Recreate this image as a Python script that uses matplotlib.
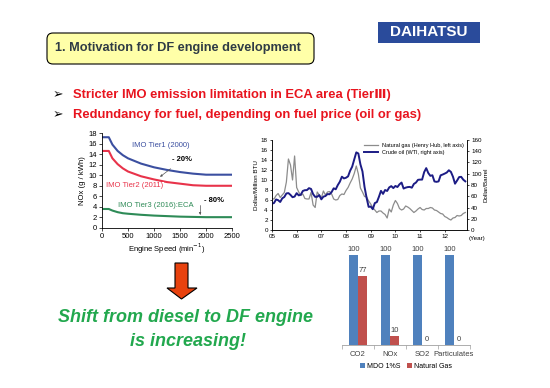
import matplotlib
matplotlib.use('Agg')
import matplotlib.pyplot as plt
import numpy as np
from matplotlib.patches import FancyBboxPatch, Polygon, Rectangle

plt.rcParams['font.family'] = ['Liberation Sans', 'DejaVu Sans']

# NOx limits (IMO Tier curves)
speed = [0, 130, 200, 300, 400, 500, 750, 1000, 1250, 1500, 1750, 2000, 2500]
tier1 = [17.2, 17.2, 15.8, 14.6, 13.8, 13.2, 12.2, 11.5, 11.0, 10.6, 10.3, 10.1, 10.1]
tier2 = [14.6, 14.6, 13.2, 12.1, 11.3, 10.7, 9.8, 9.2, 8.7, 8.4, 8.1, 8.0, 8.0]
tier3 = [3.6, 3.6, 3.3, 3.0, 2.8, 2.7, 2.5, 2.35, 2.25, 2.15, 2.1, 2.05, 2.05]

# monthly prices Jan 2005 - Nov 2012
gas = [6.3, 6.2, 6.9, 7.3, 6.5, 7.0, 7.5, 9.6, 14.2, 13.0, 10.0, 14.8,
       8.5, 7.6, 6.9, 7.2, 6.3, 6.2, 6.2, 7.5, 5.0, 4.5, 7.6, 7.0,
       6.4, 7.8, 7.0, 7.6, 7.7, 7.2, 6.2, 6.0, 6.1, 6.9, 7.2, 7.1,
       7.9, 8.5, 9.4, 10.2, 11.3, 12.8, 11.2, 8.4, 7.6, 6.7, 6.6, 5.8,
       5.2, 4.5, 4.0, 3.5, 3.8, 3.8, 3.4, 3.1, 2.4, 4.2, 3.6, 5.0,
       5.9, 5.3, 4.3, 4.0, 4.2, 4.8, 4.6, 4.3, 3.9, 3.5, 3.8, 4.2,
       4.5, 4.1, 4.0, 4.3, 4.3, 4.5, 4.4, 4.0, 3.9, 3.6, 3.3, 3.2,
       2.7, 2.5, 2.2, 2.0, 2.4, 2.5, 2.9, 2.8, 2.9, 3.3, 3.5]
wti = [46.8, 48.0, 54.3, 53.0, 49.8, 56.3, 58.7, 65.0, 65.6, 62.4, 58.3, 59.4,
       65.5, 61.6, 62.7, 69.4, 70.8, 70.9, 74.4, 73.0, 63.8, 58.9, 59.1, 62.0,
       54.5, 59.3, 60.4, 63.9, 63.5, 67.5, 74.1, 72.4, 79.9, 85.8, 94.8, 91.7,
       92.9, 95.4, 105.4, 112.6, 125.4, 138.0, 136.0, 116.7, 104.1, 76.6, 57.3, 41.1,
       41.7, 37.0, 47.9, 49.6, 59.0, 69.6, 64.2, 71.1, 69.4, 75.7, 78.0, 74.5,
       78.3, 76.4, 81.2, 84.3, 73.7, 75.3, 76.3, 76.6, 75.2, 81.9, 84.3, 89.2,
       89.6, 89.6, 102.9, 110.0, 101.3, 96.3, 97.3, 86.3, 85.6, 86.4, 97.2, 98.6,
       100.3, 102.2, 106.2, 103.3, 94.7, 82.3, 87.9, 94.1, 94.5, 89.5, 86.5]
year_ticks = [2005, 2006, 2007, 2008, 2009, 2010, 2011, 2012]
year_labels = ['05', '06', '07', '08', '09', '10', '11', '12']

# emissions relative to MDO
categories = ['CO2', 'NOx', 'SO2', 'Particulates']
mdo = [100, 100, 100, 100]
natgas = [77, 10, 0, 0]

fig = plt.figure(figsize=(5.5, 3.88), dpi=100)
fig.patch.set_facecolor('white')
T = fig.dpi_scale_trans

# header
fig.patches.append(FancyBboxPatch((0.47, 3.24), 2.67, 0.31, boxstyle='round,pad=0,rounding_size=0.06',
                                  fc='#FFFFA8', ec='black', lw=0.8, transform=T))
fig.text(0.55, 3.395, '1. Motivation for DF engine development', transform=T, ha='left', va='center',
         fontsize=9.2, fontweight='bold', color='#2F3B45')
fig.patches.append(Rectangle((3.78, 3.45), 1.02, 0.21, fc='#2A4B9B', ec='none', transform=T))
fig.text(4.29, 3.555, 'DAIHATSU', transform=T, ha='center', va='center', fontsize=11,
         fontweight='bold', color='white')

bullets = ['Stricter IMO emission limitation in ECA area (Tier\u2162)',
           'Redundancy for fuel, depending on fuel price (oil or gas)']
for i, b in enumerate(bullets):
    y = 2.93 - 0.2 * i
    fig.text(0.53, y, '\u27a2', transform=T, ha='left', va='center', fontsize=9, color='black',
             family=['DejaVu Sans'])
    fig.text(0.73, y, b, transform=T, ha='left', va='center', fontsize=9.4, fontweight='bold',
             color='#E8141E')

# NOx chart
ax1 = fig.add_axes([0.1855, 0.4124, 0.2364, 0.2448])
ax1.plot(speed, tier1, color='#3B4FA0', lw=1.5)
ax1.plot(speed, tier2, color='#E8334A', lw=1.5)
ax1.plot(speed, tier3, color='#2E8B57', lw=1.5)
ax1.set_xlim(0, 2500)
ax1.set_ylim(0, 18)
ax1.set_xticks([0, 500, 1000, 1500, 2000, 2500])
ax1.set_yticks(range(0, 19, 2))
ax1.tick_params(labelsize=5.5, length=2, width=0.5, pad=1.5)
for s in ['top', 'right']:
    ax1.spines[s].set_visible(False)
for s in ['left', 'bottom']:
    ax1.spines[s].set_linewidth(0.6)
ax1.set_ylabel('NOx (g / kWh)', fontsize=5.5, labelpad=2)
ax1.set_xlabel('Engine Speed (min$^{-1}$)', fontsize=5.5, labelpad=1)
bb = dict(fc='white', ec='none', pad=0.5)
ax1.text(1125, 15.7, 'IMO Tier1 (2000)', color='#3B4FA0', fontsize=5.5, ha='center', va='center', bbox=bb)
ax1.text(620, 8.0, 'IMO Tier2 (2011)', color='#E8334A', fontsize=5.5, ha='center', va='center', bbox=bb)
ax1.text(1030, 4.2, 'IMO Tier3 (2016):ECA', color='#2E8B57', fontsize=5.5, ha='center', va='center', bbox=bb)
ax1.annotate('- 20%', xy=(1115, 9.7), xytext=(1540, 12.9), fontsize=5.5, fontweight='bold', ha='center',
             va='center', arrowprops=dict(arrowstyle='-|>', lw=0.5, color='#555555', mutation_scale=3,
                                          shrinkA=3, shrinkB=0))
ax1.annotate('- 80%', xy=(1885, 2.5), xytext=(2150, 5.3), fontsize=5.5, fontweight='bold', ha='center',
             va='center', arrowprops=dict(arrowstyle='-|>', lw=0.5, color='#555555', mutation_scale=3,
                                          shrinkA=4, shrinkB=0, connectionstyle='angle,angleA=180,angleB=90'))

# fuel price chart
months = 2005 + np.arange(len(gas)) / 12.0
ax2 = fig.add_axes([0.4945, 0.4072, 0.3545, 0.232])
l1, = ax2.plot(months, gas, color='#8C8C8C', lw=0.9, label='Natural gas (Henry Hub, left axis)')
ax2.set_xlim(2005, 2012.9)
ax2.set_ylim(0, 18)
ax2.set_yticks(range(0, 19, 2))
ax2.set_xticks(year_ticks)
ax2.set_xticklabels(year_labels)
ax2.tick_params(labelsize=4.5, length=1.5, width=0.5, pad=1.5)
ax2.set_ylabel('Dollar/Million BTU', fontsize=4.5, labelpad=1)
ax3 = ax2.twinx()
l2, = ax3.plot(months, wti, color='#1C1C85', lw=1.4, label='Crude oil (WTI, right axis)')
ax3.set_ylim(0, 160)
ax3.set_yticks(range(0, 161, 20))
ax3.tick_params(labelsize=4.5, length=1.5, width=0.5, pad=1.5)
ax3.set_ylabel('Dollar/Barrel', fontsize=4.5, labelpad=1)
for a in (ax2, ax3):
    a.spines['top'].set_visible(False)
    for s in ['left', 'right', 'bottom']:
        a.spines[s].set_linewidth(0.5)
ax2.text(2012.95, -1.6, '(Year)', fontsize=4.5, ha='left', va='center')
ax2.legend(handles=[l1, l2], loc='upper right', fontsize=4, frameon=False, handlelength=2.5,
           borderaxespad=0.1, labelspacing=0.4)

# emissions bar chart
ax4 = fig.add_axes([0.6218, 0.1108, 0.2327, 0.255])
x = np.arange(len(categories))
w = 0.28
b1 = ax4.bar(x - w / 2, mdo, w, color='#4F81BD', label='MDO 1%S')
b2 = ax4.bar(x + w / 2, natgas, w, color='#C0504D', label='Natural Gas')
for bars in (b1, b2):
    for r in bars:
        ax4.text(r.get_x() + r.get_width() / 2, r.get_height() + 2, '%d' % r.get_height(),
                 ha='center', va='bottom', fontsize=5.5, color='#404040')
ax4.set_xlim(-0.5, 3.5)
ax4.set_ylim(0, 110)
ax4.set_yticks([])
ax4.set_xticks(x)
ax4.set_xticklabels(categories)
ax4.set_xticks(np.arange(-0.5, 4, 1), minor=True)
ax4.tick_params(axis='x', which='major', length=0, labelsize=5.5, pad=4, labelcolor='#404040')
ax4.tick_params(axis='x', which='minor', length=3, width=0.5, color='#A0A0A0')
for s in ['top', 'right', 'left']:
    ax4.spines[s].set_visible(False)
ax4.spines['bottom'].set_color('#A0A0A0')
ax4.spines['bottom'].set_linewidth(0.6)
ax4.legend(loc='upper center', bbox_to_anchor=(0.5, -0.12), ncol=2, fontsize=5, frameon=False,
           handlelength=0.7, handleheight=0.7, columnspacing=1.0, handletextpad=0.3)

# arrow and message
arrow = Polygon([(1.75, 1.25), (1.88, 1.25), (1.88, 1.00), (1.97, 1.00), (1.815, 0.89),
                 (1.67, 1.00), (1.75, 1.00)], closed=True, fc='#E8420E', ec='black', lw=0.8, transform=T)
fig.patches.append(arrow)
fig.text(1.86, 0.71, 'Shift from diesel to DF engine', transform=T, ha='center', va='center',
         fontsize=13, fontweight='bold', style='italic', color='#22A84E')
fig.text(1.88, 0.46, 'is increasing!', transform=T, ha='center', va='center',
         fontsize=13, fontweight='bold', style='italic', color='#22A84E')

fig.savefig('out.png', dpi=100)
